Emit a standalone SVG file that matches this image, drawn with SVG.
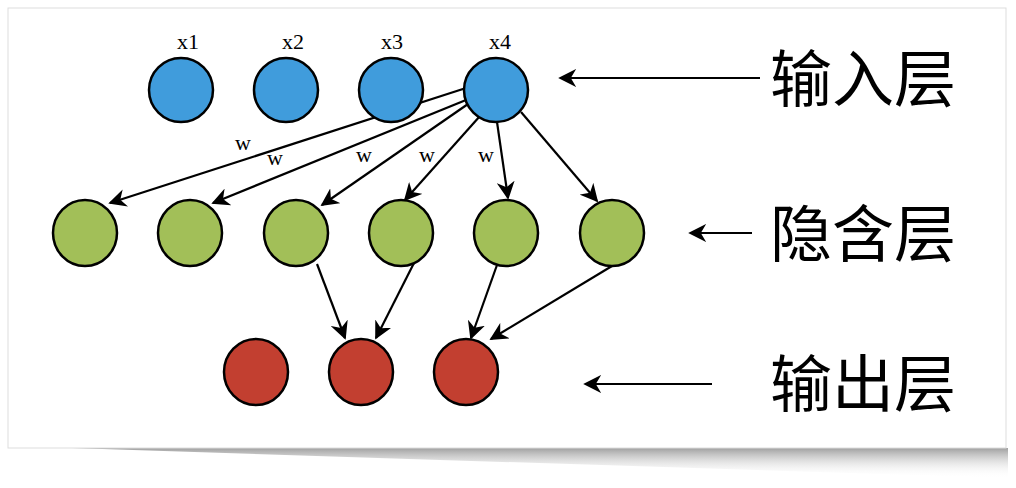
<svg xmlns="http://www.w3.org/2000/svg" width="1016" height="488" viewBox="0 0 1016 488">
<defs>
<marker id="ahs" viewBox="0 0 10 10" refX="9" refY="5" markerWidth="18" markerHeight="18" orient="auto" markerUnits="userSpaceOnUse"><path d="M0,0 L10,5 L0,10 L3,5 Z" fill="#000"/></marker>
<linearGradient id="sh" x1="0" y1="0" x2="0" y2="1"><stop offset="0" stop-color="#777"/><stop offset="1" stop-color="#fff" stop-opacity="0"/></linearGradient>
</defs>
<style>
.in{fill:#409cdc;stroke:#000;stroke-width:2.5}
.hid{fill:#a2bf58;stroke:#000;stroke-width:2.5}
.out{fill:#c23f30;stroke:#000;stroke-width:2.5}
.c{stroke:#000;stroke-width:2.2;fill:none;marker-end:url(#ahs)}
.t{font-family:"Liberation Serif",serif;font-size:22px;fill:#000}
.cj{font-family:"Noto Sans CJK SC","Noto Sans CJK JP",sans-serif;font-size:62px;fill:#000}
</style>
<rect width="1016" height="488" fill="#fff"/>
<path d="M10,446 Q500,462 1008,478 L1008,448 L10,446 Z" fill="url(#sh)" opacity="0.8"/>
<rect x="8" y="8" width="998" height="440" fill="#fff" stroke="#ddd" stroke-width="1"/>
<g id="connectors">
<line class="c" x1="466" y1="88" x2="110" y2="203"/>
<line class="c" x1="466" y1="100" x2="213" y2="203"/>
<line class="c" x1="468" y1="104" x2="322" y2="205"/>
<line class="c" x1="480" y1="116" x2="405" y2="200"/>
<line class="c" x1="497" y1="122" x2="508" y2="198"/>
<line class="c" x1="521" y1="112" x2="597" y2="201"/>
<line class="c" x1="317" y1="264" x2="345" y2="338"/>
<line class="c" x1="414" y1="263" x2="376" y2="338"/>
<line class="c" x1="497" y1="265" x2="471" y2="338"/>
<line class="c" x1="612" y1="266" x2="491" y2="339"/>
<line class="c" x1="760" y1="78" x2="560" y2="78"/>
<line class="c" x1="752" y1="233" x2="690" y2="233"/>
<line class="c" x1="712" y1="384" x2="585" y2="384"/>
<text class="t" x="243" y="150" text-anchor="middle">w</text>
<text class="t" x="275" y="165" text-anchor="middle">w</text>
<text class="t" x="364" y="162" text-anchor="middle">w</text>
<text class="t" x="427" y="162" text-anchor="middle">w</text>
<text class="t" x="486" y="162" text-anchor="middle">w</text>
</g>
<g id="x1"><ellipse class="in" cx="181" cy="90" rx="32" ry="32"/><text class="t" x="188" y="49" text-anchor="middle">x1</text></g>
<g id="x2"><ellipse class="in" cx="286" cy="90" rx="32" ry="32"/><text class="t" x="293" y="49" text-anchor="middle">x2</text></g>
<g id="x3"><ellipse class="in" cx="391" cy="90" rx="32" ry="32"/><text class="t" x="392" y="49" text-anchor="middle">x3</text></g>
<g id="x4"><ellipse class="in" cx="496" cy="90" rx="32" ry="32"/><text class="t" x="500" y="49" text-anchor="middle">x4</text></g>
<g id="h1"><ellipse class="hid" cx="85" cy="233" rx="32" ry="33"/></g>
<g id="h2"><ellipse class="hid" cx="190" cy="233" rx="32" ry="33"/></g>
<g id="h3"><ellipse class="hid" cx="296" cy="233" rx="32" ry="33"/></g>
<g id="h4"><ellipse class="hid" cx="401" cy="233" rx="32" ry="33"/></g>
<g id="h5"><ellipse class="hid" cx="506" cy="233" rx="32" ry="33"/></g>
<g id="h6"><ellipse class="hid" cx="612" cy="233" rx="32" ry="33"/></g>
<g id="o1"><ellipse class="out" cx="256" cy="372" rx="32" ry="33"/></g>
<g id="o2"><ellipse class="out" cx="361" cy="372" rx="32" ry="33"/></g>
<g id="o3"><ellipse class="out" cx="466" cy="372" rx="32" ry="33"/></g>
<g id="labels">
<text class="cj" x="770" y="102">输入层</text>
<text class="cj" x="770" y="257">隐含层</text>
<text class="cj" x="770" y="407">输出层</text>
</g>
</svg>
